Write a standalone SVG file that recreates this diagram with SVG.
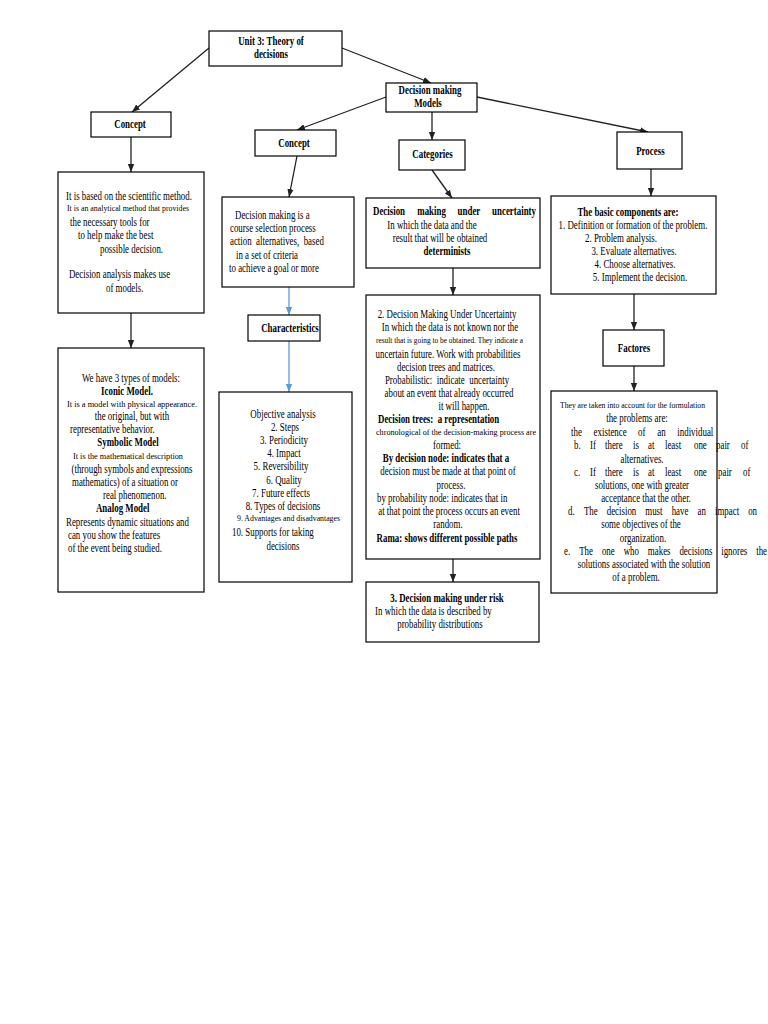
<svg xmlns="http://www.w3.org/2000/svg" width="768" height="1024" viewBox="0 0 768 1024">
<style>
.box{fill:#fff;stroke:#000;stroke-width:1.2}
text{font-family:"Liberation Serif","Times New Roman",serif;font-size:12px;fill:#000}
.b{font-weight:bold}
.m{text-anchor:middle}
.e{text-anchor:end}
.s{font-size:8.5px}
.p{white-space:pre}
.c{stroke:#222;stroke-width:1.3;fill:none;marker-end:url(#ah)}
.cb{stroke:#5b9bd5;stroke-width:1.3;fill:none;marker-end:url(#ahb)}
</style>
<defs>
<marker id="ah" viewBox="0 0 10 10" refX="10" refY="5" markerUnits="userSpaceOnUse" markerWidth="8" markerHeight="8" orient="auto"><path d="M0,1 L10,5 L0,9 z" fill="#222"/></marker>
<marker id="ahb" viewBox="0 0 10 10" refX="10" refY="5" markerUnits="userSpaceOnUse" markerWidth="8" markerHeight="8" orient="auto"><path d="M0,1 L10,5 L0,9 z" fill="#5b9bd5"/></marker>
</defs>
<rect width="768" height="1024" fill="#fff"/>

<g id="connectors">
<line class="c" x1="209" y1="48" x2="132" y2="112"/>
<line class="c" x1="342" y1="48" x2="431" y2="83"/>
<line class="c" x1="131" y1="137" x2="131" y2="172"/>
<line class="c" x1="131" y1="313" x2="131" y2="348"/>
<line class="c" x1="386" y1="97" x2="297" y2="130"/>
<line class="c" x1="432" y1="112" x2="432" y2="140"/>
<line class="c" x1="477" y1="97" x2="648" y2="132"/>
<line class="c" x1="297" y1="156" x2="289" y2="197"/>
<line class="cb" x1="289" y1="287" x2="289" y2="315"/>
<line class="cb" x1="289" y1="341" x2="289" y2="392"/>
<line class="c" x1="432" y1="170" x2="452" y2="198"/>
<line class="c" x1="453" y1="268" x2="453" y2="295"/>
<line class="c" x1="453" y1="559" x2="453" y2="582"/>
<line class="c" x1="651" y1="169" x2="651" y2="196"/>
<line class="c" x1="634" y1="294" x2="634" y2="330"/>
<line class="c" x1="634" y1="366" x2="634" y2="391"/>
</g>

<g id="n-unit">
<rect class="box" x="209" y="31" width="133" height="35"/>
<g transform="scale(0.74 1)">
<text class="b m" x="366.2" y="45">Unit 3: Theory of</text>
<text class="b m" x="366.2" y="58">decisions</text>
</g>
</g>

<g id="n-models">
<rect class="box" x="386" y="83" width="91" height="29"/>
<g transform="scale(0.74 1)">
<text class="b m" x="581.1" y="94">Decision making</text>
<text class="b m" x="578.4" y="107">Models</text>
</g>
</g>

<g id="n-concept1">
<rect class="box" x="91" y="112" width="80" height="25"/>
<g transform="scale(0.74 1)"><text class="b m" x="175.7" y="128">Concept</text></g>
</g>

<g id="n-concept2">
<rect class="box" x="255" y="130" width="81" height="26"/>
<g transform="scale(0.74 1)"><text class="b m" x="397.3" y="147">Concept</text></g>
</g>

<g id="n-categories">
<rect class="box" x="399" y="140" width="66" height="30"/>
<g transform="scale(0.74 1)"><text class="b m" x="584.5" y="158">Categories</text></g>
</g>

<g id="n-process">
<rect class="box" x="617" y="132" width="65" height="37"/>
<g transform="scale(0.74 1)"><text class="b m" x="878.9" y="155">Process</text></g>
</g>

<g id="n-concept1-desc">
<rect class="box" x="58" y="172" width="146" height="141"/>
<g transform="scale(0.74 1)">
<text class="m" x="174.3" y="200">It is based on the scientific method.</text>
<text x="94.6" y="226">the necessary tools for</text>
<text x="105.4" y="239">to help make the best</text>
<text x="135.1" y="253">possible decision.</text>
<text x="93.2" y="278">Decision analysis makes use</text>
<text x="143.2" y="292">of models.</text>
</g>
<text class="s" x="67" y="211" textLength="122" lengthAdjust="spacingAndGlyphs">It is an analytical method that provides</text>
</g>

<g id="n-models-types">
<rect class="box" x="58" y="348" width="146" height="244"/>
<g transform="scale(0.74 1)">
<text class="m" x="177" y="382">We have 3 types of models:</text>
<text class="b m" x="171.6" y="395">Iconic Model.</text>
<text class="m" x="178.4" y="420">the original, but with</text>
<text x="94.6" y="433">representative behavior.</text>
<text class="b m" x="173" y="446">Symbolic Model</text>
<text class="m" x="178.4" y="473">(through symbols and expressions</text>
<text x="97.3" y="486">mathematics) of a situation or</text>
<text x="139.2" y="499">real phenomenon.</text>
<text class="b" x="129.7" y="512">Analog Model</text>
<text x="89.2" y="526">Represents dynamic situations and</text>
<text x="91.9" y="539">can you show the features</text>
<text x="91.9" y="552">of the event being studied.</text>
</g>
<text class="s" x="67" y="407" textLength="130" lengthAdjust="spacingAndGlyphs">It is a model with physical appearance.</text>
<text class="s" x="73" y="459" textLength="110" lengthAdjust="spacingAndGlyphs">It is the mathematical description</text>
</g>

<g id="n-concept2-desc">
<rect class="box" x="222" y="197" width="132" height="90"/>
<g transform="scale(0.74 1)">
<text x="317.6" y="219">Decision making is a</text>
<text x="310.8" y="232">course selection process</text>
<text class="p" x="310.8" y="245">action  alternatives,  based</text>
<text x="318.9" y="259">in a set of criteria</text>
<text x="309.5" y="272">to achieve a goal or more</text>
</g>
</g>

<g id="n-characteristics">
<rect class="box" x="248" y="315" width="72" height="26"/>
<g transform="scale(0.74 1)"><text class="b m" x="391.9" y="332">Characteristics</text></g>
</g>

<g id="n-char-list">
<rect class="box" x="219" y="392" width="133" height="190"/>
<g transform="scale(0.74 1)">
<text class="m" x="382.4" y="418">Objective analysis</text>
<text class="m" x="385.1" y="431">2. Steps</text>
<text class="m" x="383.8" y="444">3. Periodicity</text>
<text class="m" x="383.8" y="457">4. Impact</text>
<text class="m" x="379.7" y="470">5. Reversibility</text>
<text class="m" x="383.8" y="484">6. Quality</text>
<text class="m" x="379.7" y="497">7. Future effects</text>
<text class="m" x="382.4" y="510">8. Types of decisions</text>
<text x="313.5" y="536">10. Supports for taking</text>
<text class="m" x="382.4" y="550">decisions</text>
</g>
<text class="s" x="237" y="521" textLength="103" lengthAdjust="spacingAndGlyphs">9. Advantages and disadvantages</text>
</g>

<g id="n-uncertainty">
<rect class="box" x="366" y="198" width="174" height="70"/>
<g transform="scale(0.74 1)">
<text class="b" x="504.1" y="215">Decision</text>
<text class="b" x="563.9" y="215">making</text>
<text class="b" x="618.4" y="215">under</text>
<text class="b e" x="724.3" y="215">uncertainty</text>
<text class="m" x="583.8" y="229">In which the data and the</text>
<text class="m" x="594.6" y="242">result that will be obtained</text>
<text class="b m" x="604.1" y="255">determinists</text>
</g>
</g>

<g id="n-uncertainty2">
<rect class="box" x="366" y="295" width="174" height="264"/>
<g transform="scale(0.74 1)">
<text class="m" x="604.1" y="318">2. Decision Making Under Uncertainty</text>
<text class="m" x="608.1" y="331">In which the data is not known nor the</text>
<text class="m" x="605.4" y="358">uncertain future. Work with probabilities</text>
<text class="m" x="602.7" y="371">decision trees and matrices.</text>
<text class="m p" x="604.1" y="384">Probabilistic:  indicate  uncertainty</text>
<text class="m" x="606.8" y="397">about an event that already occurred</text>
<text class="m" x="627" y="410">it will happen.</text>
<text class="b p" x="510.8" y="423">Decision trees:  a representation</text>
<text class="m" x="604.1" y="449">formed:</text>
<text class="b m" x="602.7" y="462">By decision node: indicates that a</text>
<text class="m" x="605.4" y="475">decision must be made at that point of</text>
<text class="m" x="609.5" y="489">process.</text>
<text x="509.5" y="502">by probability node: indicates that in</text>
<text class="m" x="606.8" y="515">at that point the process occurs an event</text>
<text class="m" x="605.4" y="528">random.</text>
<text class="b m" x="604.1" y="542">Rama: shows different possible paths</text>
</g>
<text class="s" x="376" y="343" textLength="147" lengthAdjust="spacingAndGlyphs">result that is going to be obtained. They indicate a</text>
<text class="s" x="376" y="435" textLength="160" lengthAdjust="spacingAndGlyphs">chronological of the decision-making process are</text>
</g>

<g id="n-risk">
<rect class="box" x="366" y="582" width="173" height="60"/>
<g transform="scale(0.74 1)">
<text class="b m" x="604.1" y="602">3. Decision making under risk</text>
<text x="506.8" y="615">In which the data is described by</text>
<text class="m" x="594.6" y="628">probability distributions</text>
</g>
</g>

<g id="n-components">
<rect class="box" x="551" y="196" width="165" height="98"/>
<g transform="scale(0.74 1)">
<text class="b m" x="848.6" y="216">The basic components are:</text>
<text class="m" x="855.4" y="229">1. Definition or formation of the problem.</text>
<text class="m" x="839.2" y="242">2. Problem analysis.</text>
<text class="m" x="856.8" y="255">3. Evaluate alternatives.</text>
<text class="m" x="858.1" y="268">4. Choose alternatives.</text>
<text class="m" x="864.9" y="281">5. Implement the decision.</text>
</g>
</g>

<g id="n-factores">
<rect class="box" x="603" y="330" width="61" height="36"/>
<g transform="scale(0.74 1)"><text class="b m" x="856.8" y="352">Factores</text></g>
</g>

<g id="n-factors">
<rect class="box" x="551" y="391" width="166" height="202"/>
<g transform="scale(0.74 1)">
<text class="m" x="860.8" y="422">the problems are:</text>
<text x="771.6" y="436">the</text>
<text x="802.2" y="436">existence</text>
<text x="862.2" y="436">of</text>
<text x="888.1" y="436">an</text>
<text x="915.3" y="436">individual</text>
<text x="775.7" y="449">b.</text>
<text x="797.3" y="449">If</text>
<text x="817.6" y="449">there</text>
<text x="855.4" y="449">is</text>
<text x="875.7" y="449">at</text>
<text x="898.6" y="449">least</text>
<text x="937.8" y="449">one</text>
<text x="967.6" y="449">pair</text>
<text x="1001.4" y="449">of</text>
<text class="m" x="867.6" y="463">alternatives.</text>
<text x="775.7" y="476">c.</text>
<text x="797.3" y="476">If</text>
<text x="817.6" y="476">there</text>
<text x="855.4" y="476">is</text>
<text x="875.7" y="476">at</text>
<text x="898.6" y="476">least</text>
<text x="937.8" y="476">one</text>
<text x="970.3" y="476">pair</text>
<text x="1004.1" y="476">of</text>
<text class="m" x="867.6" y="489">solutions, one with greater</text>
<text class="m" x="873" y="502">acceptance that the other.</text>
<text x="767.6" y="515">d.</text>
<text x="789.1" y="515">The</text>
<text x="819.9" y="515">decision</text>
<text x="872" y="515">must</text>
<text x="907.7" y="515">have</text>
<text x="942.6" y="515">an</text>
<text x="966.2" y="515">impact</text>
<text class="e" x="1023" y="515">on</text>
<text class="m" x="866.2" y="528">some objectives of the</text>
<text class="m" x="868.9" y="542">organization.</text>
<text x="762.2" y="555">e.</text>
<text x="782.7" y="555">The</text>
<text x="813.4" y="555">one</text>
<text x="842.8" y="555">who</text>
<text x="875.5" y="555">makes</text>
<text x="918.1" y="555">decisions</text>
<text x="974.6" y="555">ignores</text>
<text class="e" x="1036.5" y="555">the</text>
<text class="m" x="870.3" y="568">solutions associated with the solution</text>
<text class="m" x="859.5" y="581">of a problem.</text>
</g>
<text class="s" x="560" y="408" textLength="145" lengthAdjust="spacingAndGlyphs">They are taken into account for the formulation</text>
</g>
</svg>
